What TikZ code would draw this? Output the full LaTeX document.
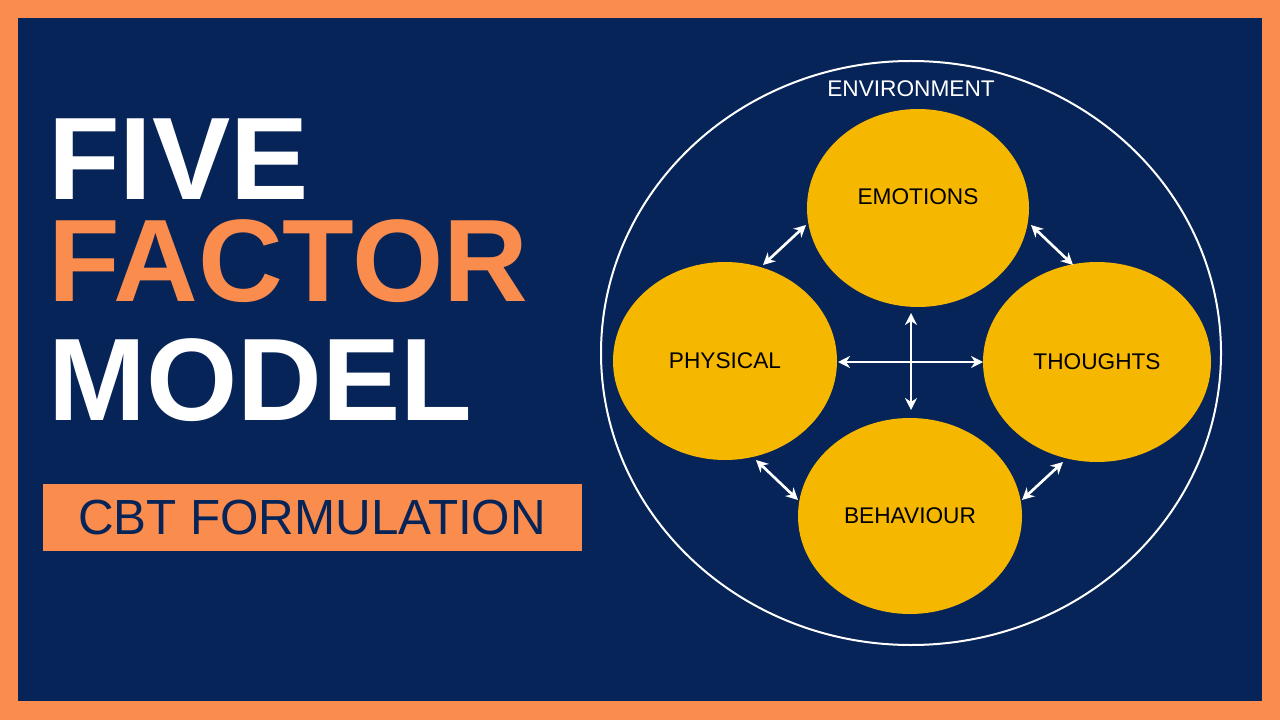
\documentclass[tikz,border=0pt]{standalone}
\usepackage{fontspec}
\setmainfont{Liberation Sans}
\definecolor{navy}{HTML}{062457}
\definecolor{org}{HTML}{FA8C4E}
\definecolor{yel}{HTML}{F6B700}
\begin{document}
\begin{tikzpicture}[x=0.75pt,y=-0.75pt,
  lbl/.style={font=\fontsize{17}{20}\selectfont,text=black},
  arr/.style={white,line width=2pt,{Stealth[length=9pt,width=9pt]}-{Stealth[length=9pt,width=9pt]}},
  big/.style={font=\fontsize{88}{90}\bfseries\selectfont,anchor=base west,inner sep=0,text height=0.72em,text depth=0pt}]
\usetikzlibrary{arrows.meta}
\fill[org] (0,0) rectangle (1280,720);
\fill[navy] (18,18) rectangle (1262,701);
\draw[white,line width=1.5pt] (911,353) ellipse [x radius=310, y radius=292];
\node[white,font=\fontsize{17}{20}\selectfont] (env) at (911,89) {ENVIRONMENT};
\fill[yel] (918,208) ellipse [x radius=111, y radius=99];
\fill[yel] (725,361) ellipse [x radius=112, y radius=99];
\fill[yel] (1097,362) ellipse [x radius=114, y radius=100];
\fill[yel] (910,516) ellipse [x radius=112, y radius=98];
\node[lbl] (emo) at (918,197) {EMOTIONS};
\node[lbl] (phy) at (725,361) {PHYSICAL};
\node[lbl] (tho) at (1097,362) {THOUGHTS};
\node[lbl] (beh) at (910,516) {BEHAVIOUR};
\coordinate (a1) at (763,265); \coordinate (a2) at (806,225);
\coordinate (b1) at (1031,225); \coordinate (b2) at (1073,265);
\coordinate (c1) at (756,460); \coordinate (c2) at (798,500);
\coordinate (d1) at (1022,500); \coordinate (d2) at (1063,462);
\coordinate (h1) at (838,362); \coordinate (h2) at (983,362);
\coordinate (v1) at (911,313); \coordinate (v2) at (911,410);
\draw[arr] (a1) -- (a2);
\draw[arr] (b1) -- (b2);
\draw[arr] (c1) -- (c2);
\draw[arr] (d1) -- (d2);
\draw[arr] (h1) -- (h2);
\draw[arr] (v1) -- (v2);
\node[big,white] (five) at (48,200) {FIVE};
\node[big,org] (factor) at (48,301) {FACTOR};
\node[big,white] (model) at (48,420) {MODEL};
\fill[org] (43,484) rectangle (582,551);
\node[navy,font=\fontsize{37}{40}\selectfont] (cbt) at (312,518) {CBT FORMULATION};
\end{tikzpicture}
\end{document}
